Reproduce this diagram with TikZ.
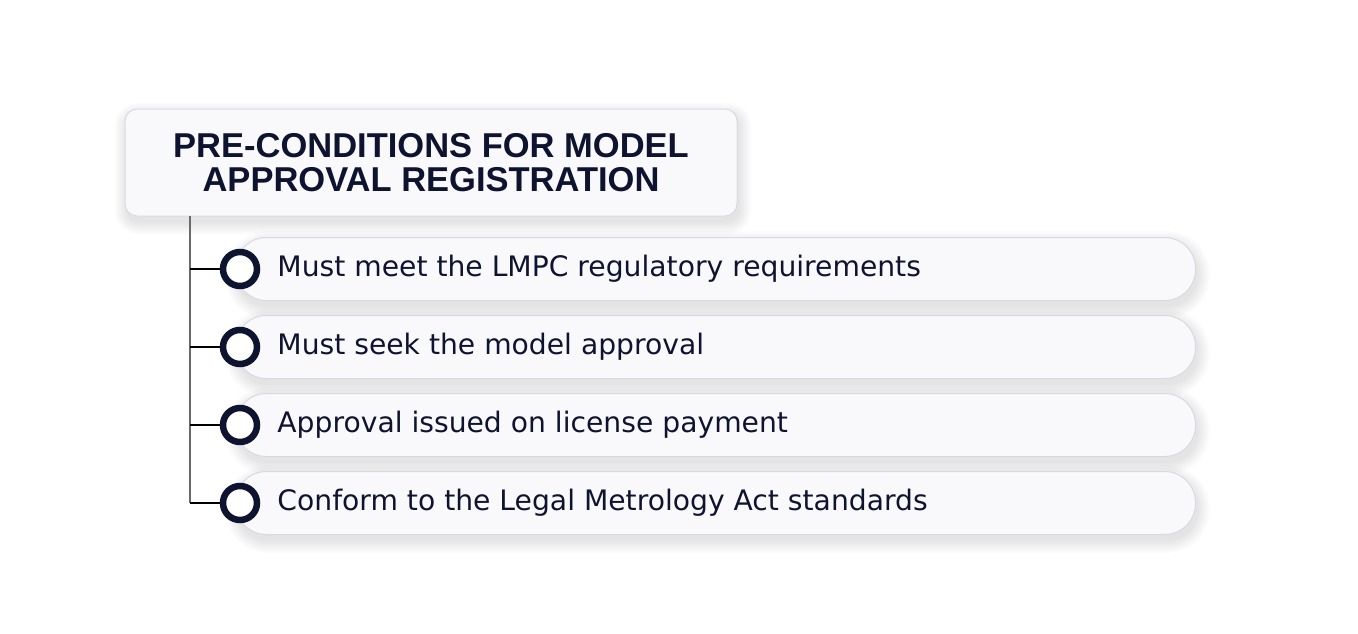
\documentclass[tikz,border=0pt]{standalone}
\usepackage{fontspec}
\setmainfont{DejaVu Sans}
\newfontfamily\headfont{Liberation Sans}
\usepackage{tikz}
\usetikzlibrary{positioning,backgrounds}

\definecolor{navy}{HTML}{0E1430}
\definecolor{boxfill}{HTML}{F9F9FB}
\definecolor{boxline}{HTML}{D9D9E4}
\definecolor{trunkgray}{HTML}{6A6A6A}

\begin{document}
\begin{tikzpicture}[x=1pt,y=-1pt]
\tikzstyle{header}=[draw=boxline,fill=boxfill,line width=1pt,rounded corners=12pt,minimum width=612pt,minimum height=107pt,align=center,font=\headfont\bfseries\fontsize{34.5}{34}\selectfont,text=navy]
\tikzstyle{pill}=[draw=boxline,fill=boxfill,line width=1pt,rounded corners=31pt,minimum width=960pt,minimum height=63pt,anchor=west]
\tikzstyle{dot}=[circle,draw=navy,line width=6.5pt,fill=white,minimum size=34pt,inner sep=0pt]
\tikzstyle{itemtext}=[anchor=west,inner sep=0pt,text=navy,font=\fontsize{28.2}{30}\selectfont]
\tikzstyle{haze}=[fill=black,opacity=0.011]
\useasboundingbox (0,0) rectangle (1358,634);
\node[header] (title) at (431,162.5) {PRE-CONDITIONS FOR MODEL\\APPROVAL REGISTRATION};
\node[pill] (item1) at (235,269) {};
\node[pill] (item2) at (235,347) {};
\node[pill] (item3) at (235,425) {};
\node[pill] (item4) at (235,503) {};
\node[dot] (dot1) at (240,269) {};
\node[dot] (dot2) at (240,347) {};
\node[dot] (dot3) at (240,425) {};
\node[dot] (dot4) at (240,503) {};
\node[itemtext,right=17pt of dot1] (text1) {Must meet the LMPC regulatory requirements};
\node[itemtext,right=17pt of dot2] (text2) {Must seek the model approval};
\node[itemtext,right=17pt of dot3] (text3) {Approval issued on license payment};
\node[itemtext,right=17pt of dot4] (text4) {Conform to the Legal Metrology Act standards};
\coordinate (trunk) at (190,216);
\draw[trunkgray,line width=1.5pt] (trunk) -- (trunk |- dot4);
\draw[black,line width=1.3pt] (trunk |- dot1) -- (dot1.west);
\draw[black,line width=1.3pt] (trunk |- dot2) -- (dot2.west);
\draw[black,line width=1.3pt] (trunk |- dot3) -- (dot3.west);
\draw[black,line width=1.3pt] (trunk |- dot4) -- (dot4.west);
% soft shadows behind the boxes
\begin{scope}[on background layer]
\fill[white] (0,0) rectangle (1358,634);
\foreach \s in {0,1.5,...,12}{
  \fill[haze,rounded corners=12+\s] ([shift={(-\s+2,-\s+6)}]title.north west) rectangle ([shift={(\s+2,\s+6)}]title.south east);
  \foreach \i in {1,...,4}
    \fill[haze,rounded corners=31+\s] ([shift={(-\s+2,-\s+6)}]item\i.north west) rectangle ([shift={(\s+2,\s+6)}]item\i.south east);
}
\end{scope}
\end{tikzpicture}
\end{document}
